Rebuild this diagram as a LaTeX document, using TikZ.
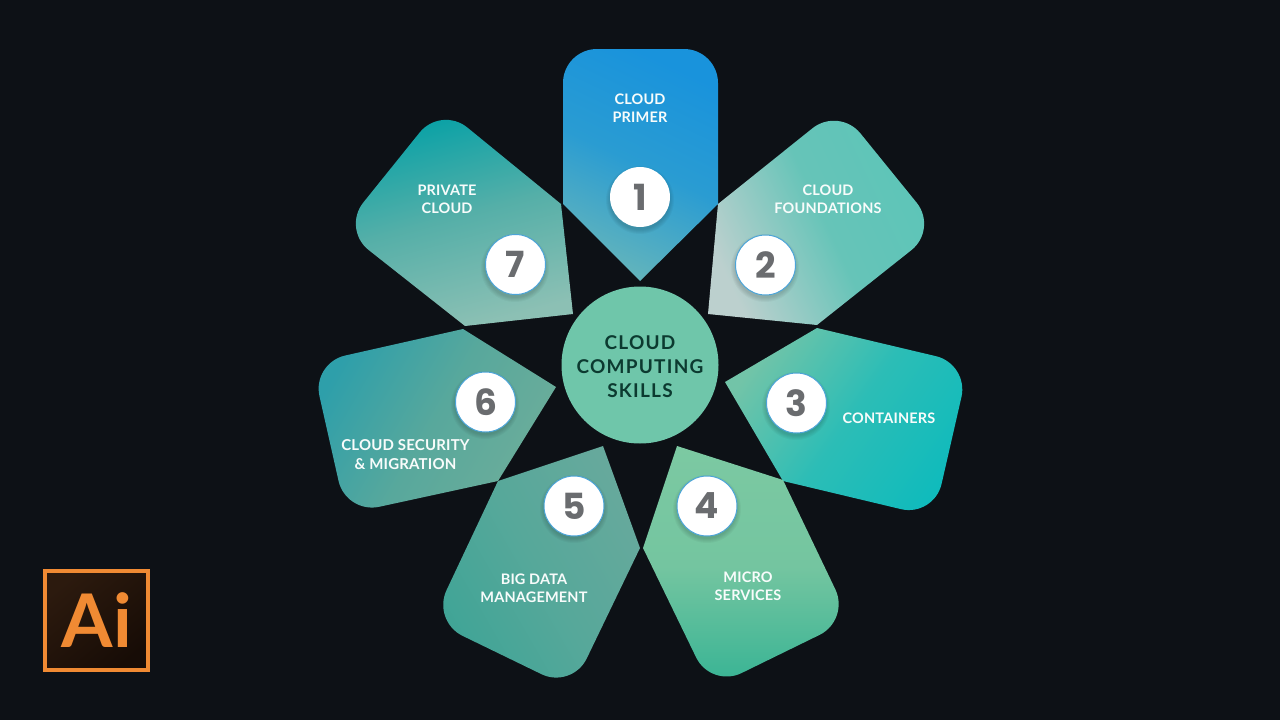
\documentclass[tikz,border=0pt]{standalone}
\usepackage{fontspec}
\setmainfont{Lato}[LetterSpace=1.2]
\newfontfamily\numfont{Poppins}
\newfontfamily\hubfont{Lato}[LetterSpace=6.5]
\newfontfamily\logofont{Lato}
\definecolor{bgc}{HTML}{0D1116}
\definecolor{hubc}{HTML}{6FC6AA}
\definecolor{hubt}{HTML}{0C3A30}
\definecolor{numt}{HTML}{6A6C6F}
\definecolor{ringc}{HTML}{4CA4D8}
\definecolor{aio}{HTML}{F08A33}
\definecolor{aida}{HTML}{2C1A0E}
\definecolor{aidb}{HTML}{170C06}
\definecolor{pa}{HTML}{1993DC}\definecolor{pm}{HTML}{2A9CD2}\definecolor{pb}{HTML}{62B4BC}
\definecolor{qa}{HTML}{5CC5B8}\definecolor{qm}{HTML}{66C4B8}\definecolor{qb}{HTML}{BCD0CE}
\definecolor{ra}{HTML}{10BBBC}\definecolor{rm}{HTML}{2CBDB6}\definecolor{rb}{HTML}{72C4A8}
\definecolor{sa}{HTML}{7CC9A2}\definecolor{sm}{HTML}{74C5A0}\definecolor{sb}{HTML}{36B394}
\definecolor{ta}{HTML}{66A99C}\definecolor{tm}{HTML}{56A89A}\definecolor{tb}{HTML}{3FA496}
\definecolor{ua}{HTML}{2E9FAA}\definecolor{um}{HTML}{58A89C}\definecolor{ub}{HTML}{6CAD9A}
\definecolor{va}{HTML}{02A0A6}\definecolor{vm}{HTML}{55AFA8}\definecolor{vb}{HTML}{8CC0B4}
\tikzset{
  x=1pt,y=-1pt,
  petaltext/.style={text=white!95!hubc,font=\bfseries\fontsize{14.5}{18}\selectfont,align=center,inner sep=0pt},
  numdisc/.style={circle,fill=white,draw=ringc,line width=1pt,minimum size=60pt,inner sep=0pt,font=\numfont\bfseries\fontsize{36}{36}\selectfont,text=numt},
  numdiscplain/.style={numdisc,draw=none},
  shadowdisc/.style={circle,fill=black,opacity=0.03,inner sep=0pt,draw=none}
}
\newcommand{\petalshape}[9]{%
  \shade[top color=#1,bottom color=#3,middle color=#2,shading angle=#4]
    #5 -- #6 [rounded corners=34pt] -- #7 -- #8 [sharp corners] -- #9 -- cycle;}
\newcommand{\softshadow}[2]{%
  \foreach \r in {60,62,64,66,68}{\node[shadowdisc,minimum size=\r pt] at (#1,#2+3) {};}}
\begin{document}
\begin{tikzpicture}
\useasboundingbox (0,0) rectangle (1280,720);
\fill[bgc] (0,0) rectangle (1280,720);
% petals: colours A, middle, B, angle, apex, shoulder, outer, outer, shoulder
\petalshape{pa}{pm}{pb}{-25}{(640,281)}{(563,204)}{(563,49)}{(718,49)}{(718,204)}
\petalshape{qa}{qm}{qb}{-65}{(708,314)}{(718,204)}{(839,107)}{(938,229)}{(817,325)}
\petalshape{ra}{rm}{rb}{-125}{(725,382)}{(817,328)}{(969,364)}{(934,517)}{(783,481)}
\petalshape{sa}{sm}{sb}{0}{(677,446)}{(783,480)}{(850,620)}{(711,688)}{(643,548)}
\petalshape{ta}{tm}{tb}{-60}{(603,446)}{(640,548)}{(572,689)}{(432,621)}{(498,481)}
\petalshape{ua}{um}{ub}{60}{(556,387)}{(498,481)}{(346,514)}{(312,363)}{(463,329)}
\petalshape{va}{vm}{vb}{15}{(573,314)}{(465,326)}{(342,229)}{(441,106)}{(561,204)}
% hub
\node[circle,fill=hubc,minimum size=157pt,inner sep=0pt] (hub) at (640,365) {};
\node[text=hubt,align=center,inner sep=0pt,font=\hubfont\bfseries\fontsize{19}{24}\selectfont] (hubl) at (640,367) {CLOUD\\COMPUTING\\SKILLS};
% labels
\node[petaltext] (l1) at (640,108) {CLOUD\\PRIMER};
\node[petaltext] (l2) at (828,199) {CLOUD\\FOUNDATIONS};
\node[petaltext] (l3) at (889,418.5) {CONTAINERS};
\node[petaltext] (l4) at (748,586) {MICRO\\SERVICES};
\node[petaltext] (l5) at (534,588) {BIG DATA\\MANAGEMENT};
\node[petaltext,font=\bfseries\fontsize{15}{19}\selectfont] (l6) at (405.5,454.5) {CLOUD SECURITY\\\& MIGRATION};
\node[petaltext] (l7) at (447,199) {PRIVATE\\CLOUD};
% number discs
\softshadow{640}{197}\softshadow{765}{265}\softshadow{796}{403}\softshadow{707}{506}
\softshadow{574}{506}\softshadow{485}{402}\softshadow{515}{265}
\node[numdiscplain] (n1) at (640,197) {1};
\node[numdisc] (n2) at (765.5,265) {2};
\node[numdisc] (n3) at (796.5,403) {3};
\node[numdisc] (n4) at (707,506) {4};
\node[numdisc] (n5) at (574,506) {5};
\node[numdisc] (n6) at (485.5,402) {6};
\node[numdisc] (n7) at (515.5,264.5) {7};
% logo
\shade[top color=aida,bottom color=aidb,shading angle=40] (45,571) rectangle (148,670);
\draw[aio,line width=3.5pt] (45,571) rectangle (148,670);
\node[text=aio,font=\logofont\bfseries\fontsize{74}{74}\selectfont,inner sep=0pt] (ai) at (97,620) {Ai};
\end{tikzpicture}
\end{document}
